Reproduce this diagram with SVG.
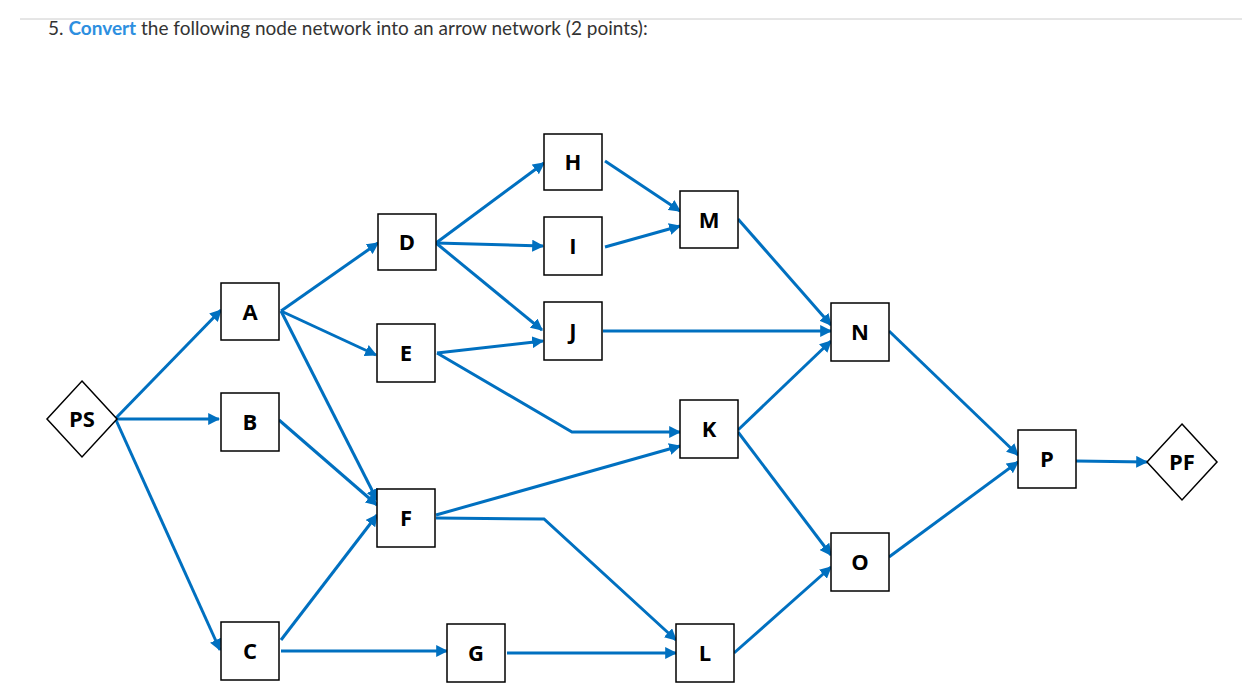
<svg xmlns="http://www.w3.org/2000/svg" width="1242" height="687" viewBox="0 0 1242 687">
<style>
.n{fill:#fff;stroke:#000;stroke-width:1.5}
.t{font-family:"Open Sans","Liberation Sans",sans-serif;font-weight:bold;font-size:22px;text-anchor:middle;fill:#000}
.c{fill:none;stroke:#0070c0;stroke-width:3}
</style>
<defs><marker id="a" viewBox="0 0 10 10" refX="9" refY="5" markerWidth="4" markerHeight="4" orient="auto"><path d="M0,0L10,5L0,10z" fill="#0070c0"/></marker></defs>
<rect width="1242" height="687" fill="#fff"/>
<line x1="20" y1="19" x2="1242" y2="19" stroke="#ccc" stroke-width="1"/>
<text x="48" y="35" font-family="Lato,'Liberation Sans',sans-serif" font-size="19" fill="#333">5. <tspan fill="#2d8fe0" font-weight="bold">Convert</tspan> the following node network into an arrow network (2 points):</text>
<g class="c" marker-end="url(#a)">
<path d="M116,418L221,310"/><path d="M116,419L219,419"/><path d="M116,420L220,650"/>
<path d="M281,311L378,243"/><path d="M281,311L376,355"/><path d="M281,311L377,500"/>
<path d="M279,420L377,505"/><path d="M281,640L377,515"/><path d="M281,651L447,651"/>
<path d="M436,243L544,163"/><path d="M436,243L543,246"/><path d="M436,243L542,330"/>
<path d="M437,353L543,341"/><path d="M437,353L572,432L680,432"/>
<path d="M436,515L680,446"/><path d="M436,518L544,519L676,640"/>
<path d="M507,653L676,653"/><path d="M605,161L680,211"/><path d="M605,247L680,226"/>
<path d="M603,331L831,331"/><path d="M738,219L831,325"/><path d="M738,430L831,341"/>
<path d="M738,432L831,555"/><path d="M734,653L831,567"/><path d="M889,331L1018,455"/>
<path d="M889,557L1018,462"/><path d="M1076,461L1147,462"/>
</g>
<g id="PS"><path class="n" d="M82,381L117,419L82,457L47,419z"/><text class="t" x="82" y="427">PS</text></g>
<g id="PF"><path class="n" d="M1182,424L1217,462L1182,500L1147,462z"/><text class="t" x="1182" y="470">PF</text></g>
<g id="A"><rect class="n" x="221" y="283" width="58" height="57"/><text class="t" x="250" y="320">A</text></g>
<g id="B"><rect class="n" x="221" y="393" width="58" height="58"/><text class="t" x="250" y="430">B</text></g>
<g id="C"><rect class="n" x="221" y="622" width="58" height="58"/><text class="t" x="250" y="659">C</text></g>
<g id="D"><rect class="n" x="378" y="214" width="58" height="56"/><text class="t" x="407" y="250">D</text></g>
<g id="E"><rect class="n" x="377" y="324" width="58" height="58"/><text class="t" x="406" y="361">E</text></g>
<g id="F"><rect class="n" x="377" y="489" width="58" height="58"/><text class="t" x="406" y="526">F</text></g>
<g id="G"><rect class="n" x="447" y="624" width="58" height="58"/><text class="t" x="476" y="661">G</text></g>
<g id="H"><rect class="n" x="544" y="134" width="58" height="56"/><text class="t" x="573" y="170">H</text></g>
<g id="I"><rect class="n" x="544" y="217" width="58" height="58"/><text class="t" x="573" y="254">I</text></g>
<g id="J"><rect class="n" x="544" y="302" width="58" height="58"/><text class="t" x="573" y="339">J</text></g>
<g id="M"><rect class="n" x="680" y="191" width="58" height="57"/><text class="t" x="709" y="228">M</text></g>
<g id="K"><rect class="n" x="680" y="400" width="58" height="58"/><text class="t" x="709" y="437">K</text></g>
<g id="L"><rect class="n" x="676" y="624" width="58" height="58"/><text class="t" x="705" y="661">L</text></g>
<g id="N"><rect class="n" x="831" y="303" width="58" height="58"/><text class="t" x="860" y="340">N</text></g>
<g id="O"><rect class="n" x="831" y="533" width="58" height="58"/><text class="t" x="860" y="570">O</text></g>
<g id="P"><rect class="n" x="1018" y="430" width="58" height="58"/><text class="t" x="1047" y="467">P</text></g>
</svg>
